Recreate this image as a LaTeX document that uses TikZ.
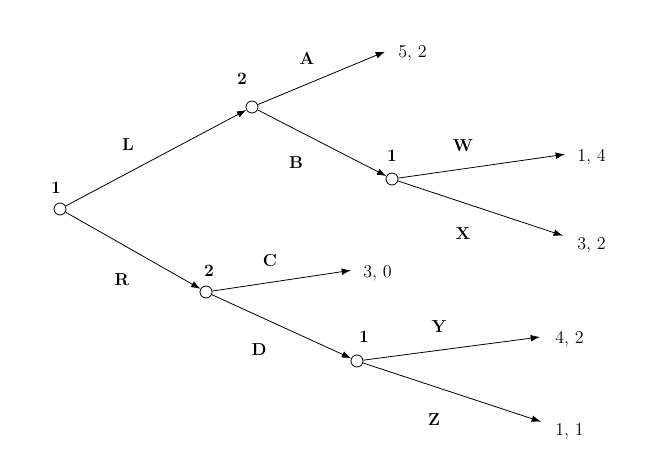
\documentclass[tikz,border=0pt]{standalone}
\usepackage{tikz}
\usetikzlibrary{arrows.meta}

\begin{document}
\begin{tikzpicture}[x=0.75pt,y=-0.75pt]
		\tikzset{vertex/.style = {draw, circle, minimum size=9pt, inner sep=0pt, line width=0.6pt}}
		\tikzset{edge/.style = {-{Latex[length=7pt,width=5pt]}, line width=0.6pt}}
		\tikzset{payoff/.style = {anchor=west, inner sep=0pt, font=\fontsize{13.5}{15}\selectfont}}
		\tikzset{lbl/.style = {font=\fontsize{13}{15}\selectfont\bfseries}}
		\useasboundingbox (0,0) rectangle (665,474);
		
		\node[vertex]  (1)  at ( 60, 209) {};
		\node[vertex]  (2a) at (252, 107) {};
		\node[vertex]  (1a) at (392, 179) {};
		\node[vertex]  (2b) at (206, 292) {};
		\node[vertex]  (1b) at (357, 361) {};
		
		\node[lbl] at ( 56, 188) {1};
		\node[lbl] at (242,  79) {2};
		\node[lbl] at (392, 156) {1};
		\node[lbl] at (209, 271) {2};
		\node[lbl] at (364, 337) {1};
		
		\node[payoff]  (p1) at (398,  53) {5, 2};
		\node[payoff]  (p2) at (577, 157) {1, 4};
		\node[payoff]  (p3) at (577, 245) {3, 2};
		\node[payoff]  (p4) at (363, 273) {3, 0};
		\node[payoff]  (p5) at (555, 339) {4, 2};
		\node[payoff]  (p6) at (555, 431) {1, 1};
		
		\draw[edge] (1)  to (2a);
		\draw[edge] (1)  to (2b);
		\draw[edge] (2a) to ([xshift=-13*0.75pt,yshift=1pt]p1.west);
		\draw[edge] (2a) to (1a);
		\draw[edge] (1a) to ([xshift=-12*0.75pt,yshift=2pt]p2.west);
		\draw[edge] (1a) to ([xshift=-14*0.75pt,yshift=7pt]p3.west);
		\draw[edge] (2b) to ([xshift=-12*0.75pt,yshift=2pt]p4.west);
		\draw[edge] (2b) to (1b);
		\draw[edge] (1b) to ([xshift=-15*0.75pt,yshift=1.5pt]p5.west);
		\draw[edge] (1b) to ([xshift=-14*0.75pt,yshift=7pt]p6.west);
		
		\node[lbl] (L) at (128, 145) {L};
		\node[lbl] (R) at (122, 280) {R};
		\node[lbl] (A) at (307,  58) {A};
		\node[lbl] (B) at (296, 163) {B};
		\node[lbl] (C) at (270, 261) {C};
		\node[lbl] (D) at (259, 350) {D};
		\node[lbl] (W) at (463, 146) {W};
		\node[lbl] (X) at (463, 234) {X};
		\node[lbl] (Y) at (439, 327) {Y};
		\node[lbl] (Z) at (434, 420) {Z};
		\end{tikzpicture}
\end{document}
